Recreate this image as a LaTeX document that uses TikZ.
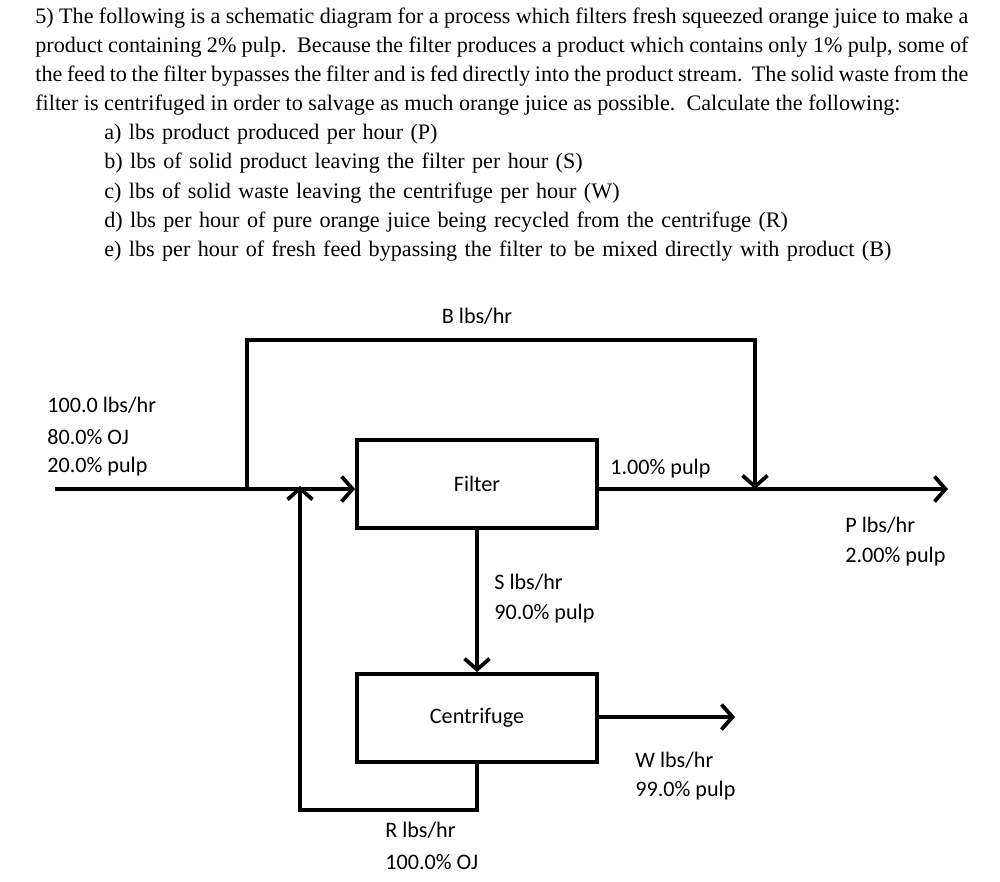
\documentclass[tikz,border=0pt]{standalone}
\usepackage{fontspec}
\setmainfont{Liberation Serif}
\newfontfamily\lab{Carlito}
\usetikzlibrary{arrows.meta}
\begin{document}
\begin{tikzpicture}[x=0.2mm,y=-0.2mm,
  ln/.style={line width=0.75mm},
  ar/.style={ln,-{Straight Barb[length=2.2mm,width=5mm,line width=0.75mm]}},
  box/.style={draw,line width=0.75mm,minimum width=48mm,minimum height=17.6mm,font=\lab\fontsize{12.6}{14}\selectfont},
  lb/.style={font=\lab\fontsize{12.6}{14}\selectfont,anchor=west,inner sep=0pt}]
\useasboundingbox (0,0) rectangle (1000,881);
\node[anchor=north west,inner sep=0pt,text width=186.6mm,align=justify,font=\fontsize{12.6}{16.4}\selectfont] (para) at (35,8)
{5) The following is a schematic diagram for a process which filters fresh squeezed orange juice to make a product containing 2\% pulp.\ \ Because the filter produces a product which contains only 1\% pulp, some of the feed to the filter bypasses the filter and is fed directly into the product stream.\ \ The solid waste from the\linebreak filter is centrifuged in order to salvage as much orange juice as possible.\ \ Calculate the following:\par};
\node[anchor=north west,inner sep=0pt,text width=170mm,align=left,font=\fontsize{12.6}{16.6}\selectfont] (items) at (104,124)
{a) lbs product produced per hour (P)\\
b) lbs of solid product leaving the filter per hour (S)\\
c) lbs of solid waste leaving the centrifuge per hour (W)\\
d) lbs per hour of pure orange juice being recycled from the centrifuge (R)\\
e) lbs per hour of fresh feed bypassing the filter to be mixed directly with product (B)};
\node[box] (f) at (477,484) {Filter};
\node[box] (c) at (477,718) {Centrifuge};
\coordinate (in) at (55,489);
\coordinate (sp) at (247,489);
\coordinate (mx) at (755,489);
\coordinate (out) at (948,489);
\coordinate (rj) at (300,489);
\coordinate (wo) at (735,717);
\draw[ln] (in) -- (sp);
\draw[ar] (sp) -- (f.west|-sp);
\draw[ar] (sp) -- (247,340) -- (755,340) -- (mx);
\draw[ar] (f.east|-mx) -- (out);
\draw[ar] (f.south) -- (c.north);
\draw[ar] (c.east|-wo) -- (wo);
\draw[ar] (c.south) -- (477,810) -- (300,810) -- ([yshift=0.6mm]rj);
\node[font=\lab\fontsize{12.6}{14}\selectfont] (bl) at (477,316) {B lbs/hr};
\node[lb] (a1) at (47,405) {100.0 lbs/hr};
\node[lb] (a2) at (47,437) {80.0\% OJ};
\node[lb] (a3) at (47,467) {20.0\% pulp};
\node[lb] (fp) at (610,469) {1.00\% pulp};
\node[lb] (p1) at (845,525) {P lbs/hr};
\node[lb] (p2) at (845,557) {2.00\% pulp};
\node[lb] (s1) at (494,582) {S lbs/hr};
\node[lb] (s2) at (494,614) {90.0\% pulp};
\node[lb] (w1) at (635,760) {W lbs/hr};
\node[lb] (w2) at (635,791) {99.0\% pulp};
\node[lb] (r1) at (385,830) {R lbs/hr};
\node[lb] (r2) at (385,862) {100.0\% OJ};
\end{tikzpicture}
\end{document}
